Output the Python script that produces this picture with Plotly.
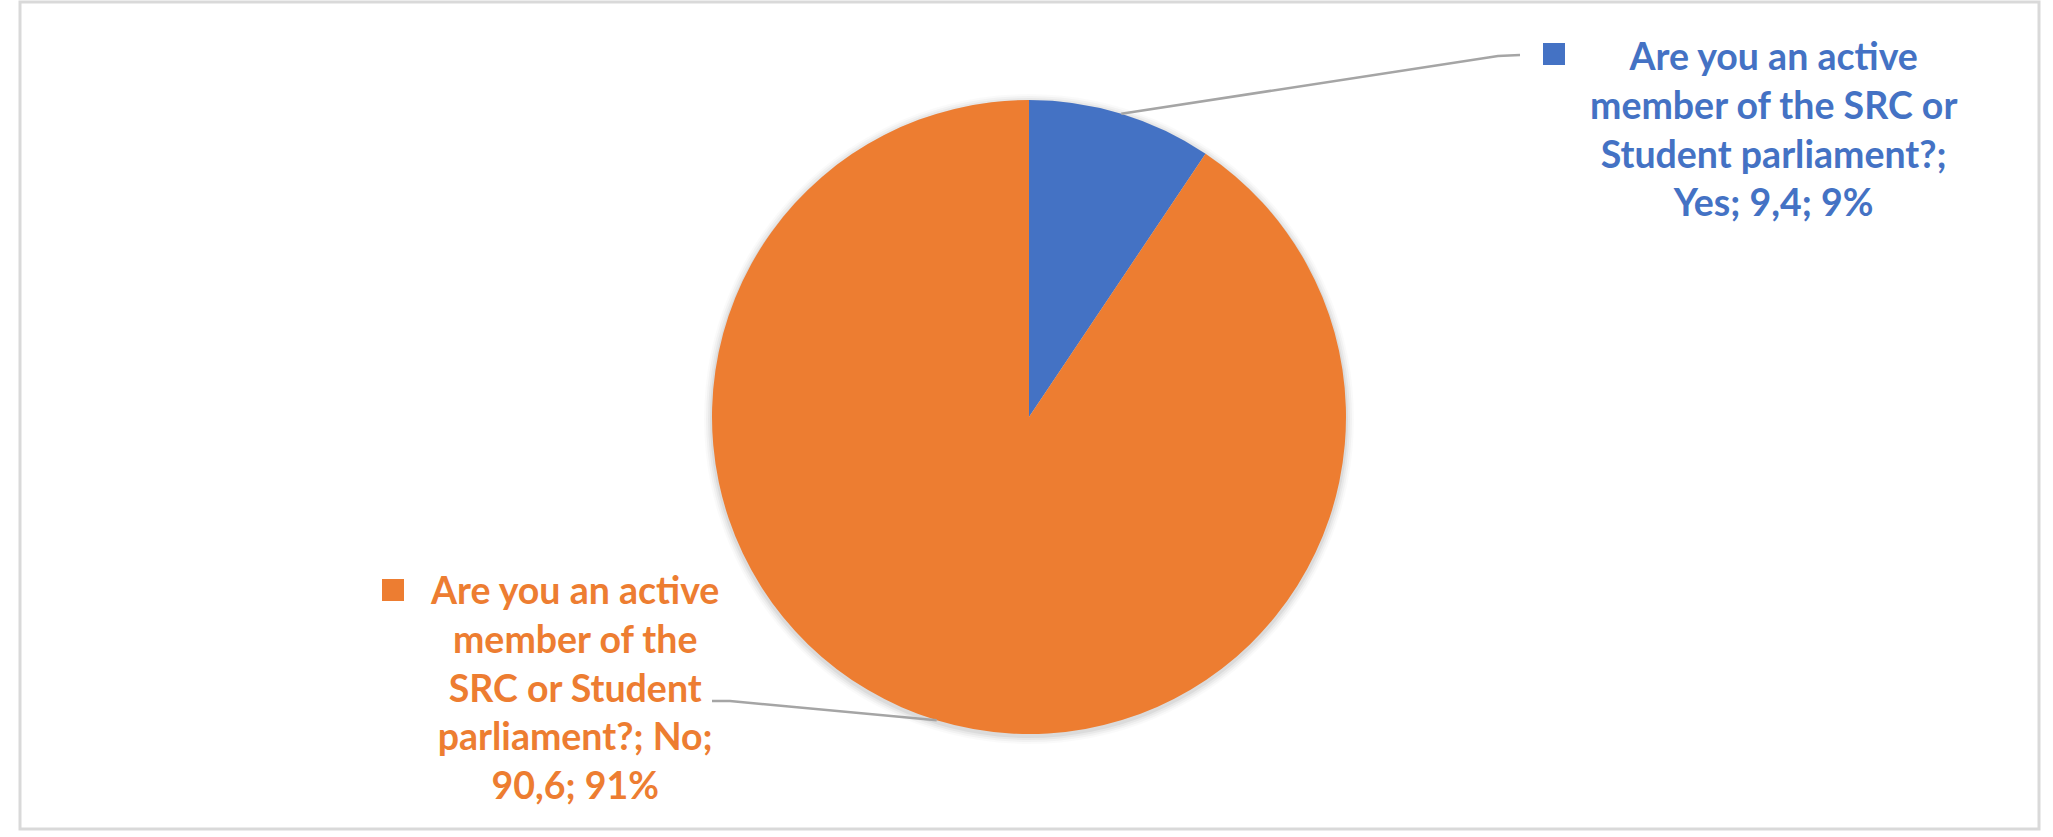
import math
import plotly.graph_objects as go

# survey answers
answers = ["Yes", "No"]
values = [9.4, 90.6]
question = "Are you an active member of the SRC or Student parliament?"
colors = ["#4472C4", "#ED7D31"]

# label text, wrapped like the original chart
label_lines = [
    ["Are you an active", "member of the SRC or", "Student parliament?;", "Yes; 9,4; 9%"],
    ["Are you an active", "member of the", "SRC or Student", "parliament?; No;", "90,6; 91%"],
]

W, H = 2053, 837
cx, cy, R = 1029, 417, 317  # pie centre / radius in pixels (top-left origin)

fig = go.Figure()

# soft shadow under the pie
for i, a in enumerate([0.05, 0.04, 0.03, 0.02]):
    r = R + 2 + i * 2
    fig.add_shape(type="circle", xref="paper", yref="paper",
                  x0=(cx - r) / W, x1=(cx + r) / W,
                  y0=1 - (cy + r + 2) / H, y1=1 - (cy - r + 2) / H,
                  line=dict(width=0), fillcolor=f"rgba(0,0,0,{a})", layer="below")

fig.add_trace(go.Pie(
    labels=answers,
    values=values,
    sort=False,
    direction="clockwise",
    rotation=0,
    marker=dict(colors=colors, line=dict(width=0)),
    textinfo="none",
    hoverinfo="label+value+percent",
    showlegend=False,
    domain=dict(x=[(cx - R) / W, (cx + R) / W], y=[1 - (cy + R) / H, 1 - (cy - R) / H]),
))

# where the labels sit (text centre x, top y, key square centre, elbow of leader line)
label_pos = [
    dict(tx=1773, ty=31, mx=1554, my=54, elbow=[(1520, 55), (1498, 56)]),
    dict(tx=574, ty=565, mx=393, my=590, elbow=[(712, 701), (730, 701)]),
]

total = sum(values)
start = 0.0
for i, v in enumerate(values):
    mid = (start + v / 2) / total * 2 * math.pi
    start += v
    ax = cx + R * math.sin(mid)
    ay = cy - R * math.cos(mid)
    pos = label_pos[i]
    pts = pos["elbow"] + [(ax, ay)]
    path = "M " + " L ".join(f"{x / W},{1 - y / H}" for x, y in pts)
    fig.add_shape(type="path", path=path, xref="paper", yref="paper",
                  line=dict(color="#A5A5A5", width=2.5))

    # legend key square
    s = 11
    fig.add_shape(type="rect", xref="paper", yref="paper",
                  x0=(pos["mx"] - s) / W, x1=(pos["mx"] + s) / W,
                  y0=1 - (pos["my"] + s) / H, y1=1 - (pos["my"] - s) / H,
                  line=dict(width=0), fillcolor=colors[i])

    fig.add_annotation(
        x=pos["tx"] / W, y=1 - pos["ty"] / H, xref="paper", yref="paper",
        xanchor="center", yanchor="top", showarrow=False, align="center",
        text="<br>".join(f"<b>{t}</b>" for t in label_lines[i]),
        font=dict(family="Lato", size=37.5, color=colors[i]),
    )

# chart area border
fig.add_shape(type="rect", xref="paper", yref="paper",
              x0=20 / W, x1=2039 / W, y0=1 - 829 / H, y1=1 - 2 / H,
              line=dict(color="#D9D9D9", width=3))

fig.update_layout(
    width=W, height=H,
    margin=dict(l=0, r=0, t=0, b=0),
    paper_bgcolor="white",
    plot_bgcolor="white",
)

fig.write_html("out.html", config={"displayModeBar": False},
               post_script="document.body.style.margin='0';")
